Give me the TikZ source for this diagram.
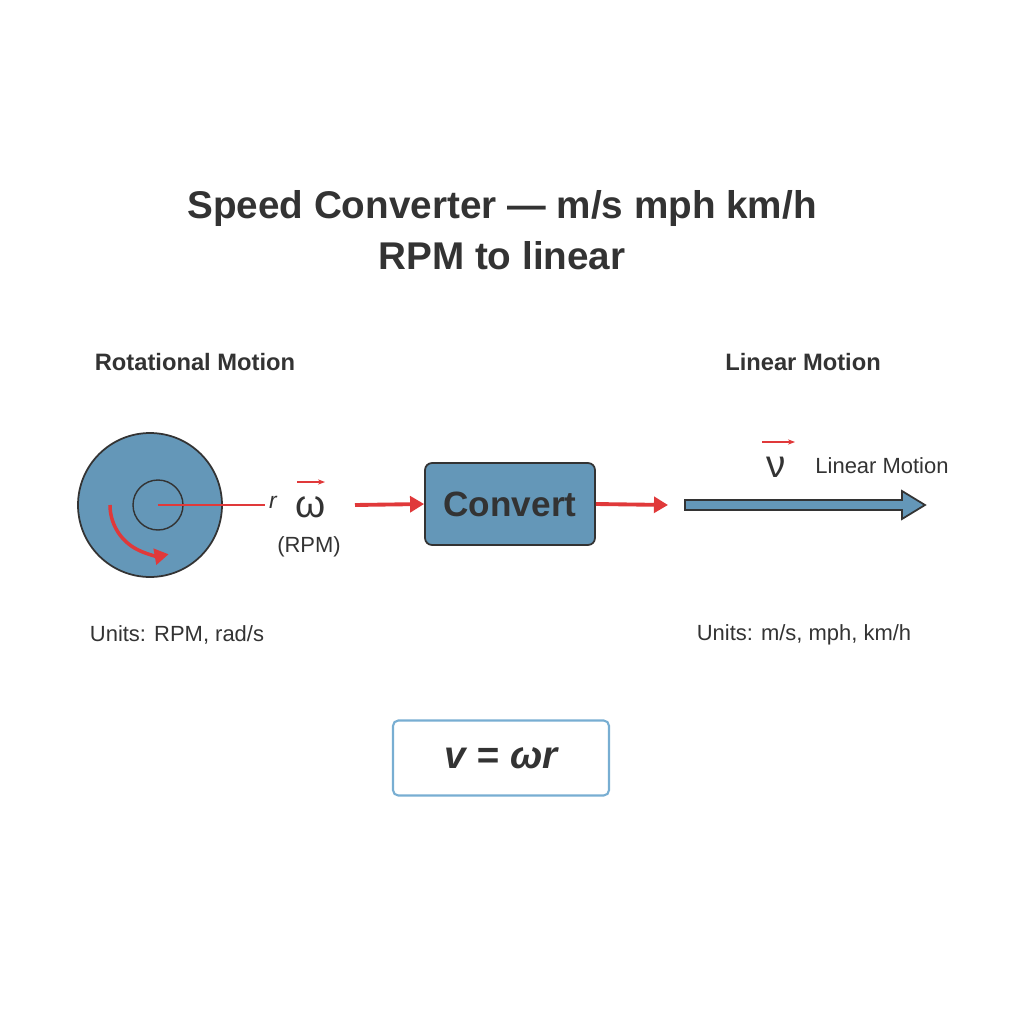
\documentclass[tikz,border=0pt]{standalone}
\usepackage{fontspec}
\setmainfont{Liberation Sans}
\usetikzlibrary{arrows.meta, positioning}
\definecolor{wheelblue}{HTML}{6497B8}
\definecolor{darkgray}{HTML}{333333}
\definecolor{arrowred}{HTML}{E0393A}
\definecolor{framblue}{HTML}{78AED2}

\begin{document}
\begin{tikzpicture}[
        x=0.02cm, y=-0.02cm,
        every node/.style = {text=darkgray},
        heading/.style = {font=\bfseries\fontsize{13.5}{16}\selectfont},
        label/.style = {font=\fontsize{12.5}{15}\selectfont},
        redarrow/.style = {draw=arrowred, line width=2.2pt, -{Triangle[length=8pt,width=9pt]}}
    ]
    \useasboundingbox (0,0) rectangle (1024,1024);

    % Title
    \node (title) at (502,230) [align=center, font=\bfseries\fontsize{22}{29}\selectfont]
        {Speed Converter — m/s mph km/h\\RPM to linear};

    % Headings
    \node (rotational) at (195,362) [heading] {Rotational Motion};
    \node (linear) at (803,362) [heading] {Linear Motion};

    % Wheel
    \node (wheel) at (150,505) [circle, draw=darkgray, line width=1pt, fill=wheelblue,
        inner sep=0pt, minimum size=2.88cm] {};
    \node (hub) at (158,505) [circle, draw=darkgray, line width=0.8pt, minimum size=1cm] {};
    \coordinate (rimend) at (265,505);
    \draw [arrowred, line width=0.8pt] (hub.center) -- (rimend);
    \node (radius) at (273,502) [font=\itshape\fontsize{13}{15}\selectfont] {r};
    \draw [redarrow, line width=2pt] (110,505) arc[start angle=180, end angle=80, radius=50];

    % Angular velocity
    \node (omega) at (311,507) [font=\fontsize{22}{24}\selectfont] {ω};
    \draw [arrowred, line width=0.8pt, -{Stealth[length=4pt]}] (297,482) -- (325,482);
    \node (rpm) at (309,547) [label] {(RPM)};

    % Converter
    \node (convert) at (510,504) [rectangle, rounded corners=4pt, draw=darkgray, line width=1pt,
        fill=wheelblue, minimum width=3.4cm, minimum height=1.64cm,
        font=\bfseries\fontsize{20}{24}\selectfont] {Convert};
    \coordinate (outend) at (668,505);
    \path [redarrow] (355,505) -- (convert.west);
    \path [redarrow] (convert.east) -- (outend);

    % Linear arrow
    \draw [darkgray, line width=1pt, fill=wheelblue, line join=miter]
        (685,500) -- (902,500) -- (902,491) -- (925,505) -- (902,519) -- (902,510) -- (685,510) -- cycle;
    \node (velocity) at (776,467) [font=\fontsize{22}{24}\selectfont] {ν};
    \draw [arrowred, line width=0.8pt, -{Stealth[length=4pt]}] (762,442) -- (795,442);
    \node (vlabel) at (882,466) [label] {Linear Motion};

    % Units
    \node (unitsrot) at (177,635) [label] {Units: RPM, rad/s};
    \node (unitslin) at (804,635) [label] {Units: m/s, mph, km/h};

    % Formula
    \node (formula) at (501,758) [rectangle, rounded corners=3pt, draw=framblue, line width=1.2pt,
        minimum width=4.32cm, minimum height=1.5cm,
        font=\bfseries\itshape\fontsize{22}{26}\selectfont] {v = ωr};
\end{tikzpicture}
\end{document}
